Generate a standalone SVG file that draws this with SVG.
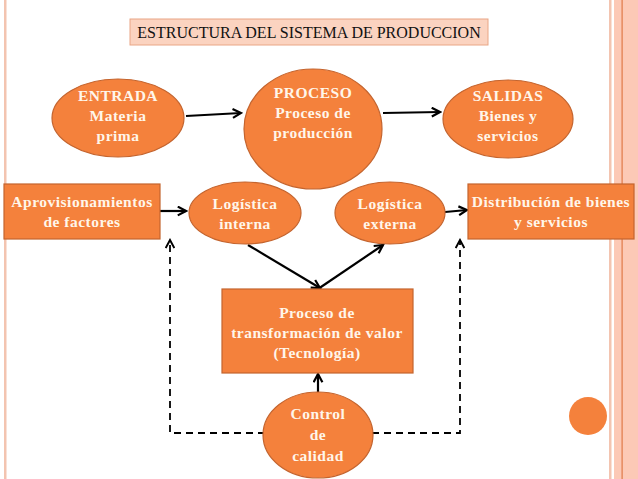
<svg xmlns="http://www.w3.org/2000/svg" width="638" height="479" viewBox="0 0 638 479">
<style>
.n{fill:#f4813c;stroke:#c4642e;stroke-width:1.2}
.t{font-family:"Liberation Serif","Times New Roman",serif;font-weight:bold;font-size:15.5px;letter-spacing:0.5px;fill:#fff6ea;text-anchor:middle}
.c{stroke:#000;stroke-width:2.2;fill:none;marker-end:url(#a)}
.d{stroke:#000;stroke-width:1.8;fill:none;stroke-dasharray:7,5}
</style>
<defs>
<marker id="a" viewBox="0 0 10 10" refX="8.5" refY="5" markerWidth="5" markerHeight="5" orient="auto" markerUnits="strokeWidth">
<path d="M1,1 L8.5,5 L1,9" fill="none" stroke="#000" stroke-width="2"/>
</marker>
<marker id="b" viewBox="0 0 10 10" refX="8.5" refY="5" markerWidth="6" markerHeight="6" orient="auto" markerUnits="strokeWidth">
<path d="M1,1 L8.5,5 L1,9" fill="none" stroke="#000" stroke-width="1.8"/>
</marker>
</defs>
<rect width="638" height="479" fill="#fff"/>
<rect x="4" y="0" width="2.5" height="479" fill="#f3c4b0"/>
<rect x="609" y="0" width="2.5" height="479" fill="#f3c4b0"/>
<rect x="614" y="0" width="24" height="479" fill="#fcc9b6"/>
<rect x="621.5" y="0" width="1.2" height="479" fill="#e07a48"/>
<circle cx="588" cy="416" r="19" fill="#f4813c"/>
<g id="title">
<rect x="130" y="19" width="358" height="26" fill="#fbd3c0" stroke="#e9a686" stroke-width="1"/>
<text x="309" y="38" font-family="'Liberation Serif','Times New Roman',serif" font-size="16" text-anchor="middle" fill="#111">ESTRUCTURA DEL SISTEMA DE PRODUCCION</text>
</g>
<g id="connectors">
<line class="c" x1="186" y1="116" x2="241" y2="113"/>
<line class="c" x1="383" y1="113" x2="440" y2="112"/>
<line class="c" x1="160" y1="211" x2="186" y2="211"/>
<line class="c" x1="445" y1="212" x2="467" y2="210"/>
<line class="c" x1="248" y1="245" x2="320" y2="288"/>
<line class="c" x1="318" y1="289" x2="383" y2="245"/>
<line class="c" x1="318" y1="395" x2="318" y2="374"/>
<path class="d" d="M265,433 H170 V240" marker-end="url(#b)"/>
<path class="d" d="M372,433 H460 V240" marker-end="url(#b)"/>
</g>
<g id="entrada">
<ellipse class="n" cx="118" cy="118" rx="66" ry="39"/>
<text class="t" x="118" y="101">ENTRADA</text>
<text class="t" x="118" y="121">Materia</text>
<text class="t" x="118" y="141">prima</text>
</g>
<g id="proceso">
<ellipse class="n" cx="313" cy="129" rx="69" ry="60"/>
<text class="t" x="313" y="98">PROCESO</text>
<text class="t" x="313" y="118">Proceso de</text>
<text class="t" x="313" y="138">producción</text>
</g>
<g id="salidas">
<ellipse class="n" cx="508" cy="119" rx="65" ry="39"/>
<text class="t" x="508" y="101">SALIDAS</text>
<text class="t" x="508" y="121">Bienes y</text>
<text class="t" x="508" y="141">servicios</text>
</g>
<g id="aprovisionamientos">
<rect class="n" x="4" y="184" width="156" height="55"/>
<text class="t" x="82" y="207">Aprovisionamientos</text>
<text class="t" x="82" y="227">de factores</text>
</g>
<g id="logistica-interna">
<ellipse class="n" cx="245" cy="213" rx="56" ry="31"/>
<text class="t" x="245" y="209">Logística</text>
<text class="t" x="245" y="229">interna</text>
</g>
<g id="logistica-externa">
<ellipse class="n" cx="390" cy="213" rx="55" ry="31"/>
<text class="t" x="390" y="209">Logística</text>
<text class="t" x="390" y="229">externa</text>
</g>
<g id="distribucion">
<rect class="n" x="468" y="184" width="166" height="55"/>
<text class="t" x="551" y="207">Distribución de bienes</text>
<text class="t" x="551" y="227">y servicios</text>
</g>
<g id="transformacion">
<rect class="n" x="222" y="289" width="191" height="84"/>
<text class="t" x="317" y="318">Proceso de</text>
<text class="t" x="317" y="338">transformación de valor</text>
<text class="t" x="317" y="358">(Tecnología)</text>
</g>
<g id="control">
<ellipse class="n" cx="318" cy="435" rx="55" ry="43"/>
<text class="t" x="318" y="419">Control</text>
<text class="t" x="318" y="440">de</text>
<text class="t" x="318" y="461">calidad</text>
</g>
</svg>
